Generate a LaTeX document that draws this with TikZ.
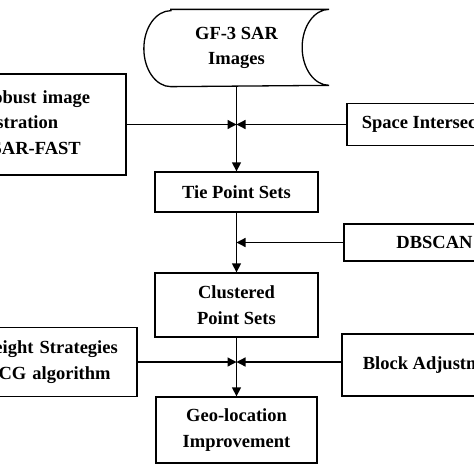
\documentclass[tikz,border=0pt]{standalone}
\usepackage{fontspec}
\setmainfont{Liberation Serif}
\usetikzlibrary{arrows.meta}
\begin{document}
\begin{tikzpicture}[x=1pt,y=1pt,line width=1.3pt,
  txt/.style={font=\bfseries\fontsize{18.5}{25.5}\selectfont,align=center,inner sep=0pt},
  box/.style={txt,draw},
  side/.style={box,align=left,text width=152pt,inner xsep=8pt},
  arr/.style={-{Triangle[length=9pt,width=9pt]}}]
\useasboundingbox (0,0) rectangle (474,-474);
\clip (0,0) rectangle (474,-474);
\node[txt,minimum width=184pt,minimum height=76pt] (SAR) at (236.5,-48) {GF-3 SAR\\Images};
\draw ([xshift=27pt]SAR.north west) -- (SAR.north east)
  arc[start angle=90,end angle=270,x radius=27pt,y radius=38pt]
  -- ([xshift=27pt]SAR.south west)
  arc[start angle=270,end angle=90,x radius=27pt,y radius=38pt] -- cycle;
\node[side,minimum height=101pt] (REG) at (42,-124.5) {A robust image\\registration\\by SAR-FAST};
\node[box,minimum width=175pt,minimum height=42pt] (SI) at (434.5,-124.5) {Space Intersection};
\node[box,minimum width=163pt,minimum height=40pt] (TPS) at (236.5,-192) {Tie Point Sets};
\node[box,minimum width=181pt,minimum height=37pt] (DB) at (434.5,-242.5) {DBSCAN};
\node[box,minimum width=163pt,minimum height=64pt] (CPS) at (236.5,-305) {Clustered\\Point Sets};
\node[side,minimum height=69pt] (WS) at (53,-362) {Weight Strategies\\\& CG algorithm};
\node[box,minimum width=185pt,minimum height=62pt] (BA) at (434.5,-365) {Block Adjustment};
\node[box,minimum width=161pt,minimum height=66pt] (GEO) at (236.5,-430) {Geo-location\\Improvement};
\coordinate (J1) at (SAR |- REG);
\coordinate (J2) at (CPS |- WS);
\path[arr]
  (SAR) edge (TPS)
  (REG) edge (J1)
  (SI) edge (J1)
  (TPS) edge (CPS)
  (DB) edge (DB -| TPS)
  (CPS) edge (GEO)
  (WS) edge (J2)
  (J2 -| BA.west) edge (J2)
;
\end{tikzpicture}
\end{document}
